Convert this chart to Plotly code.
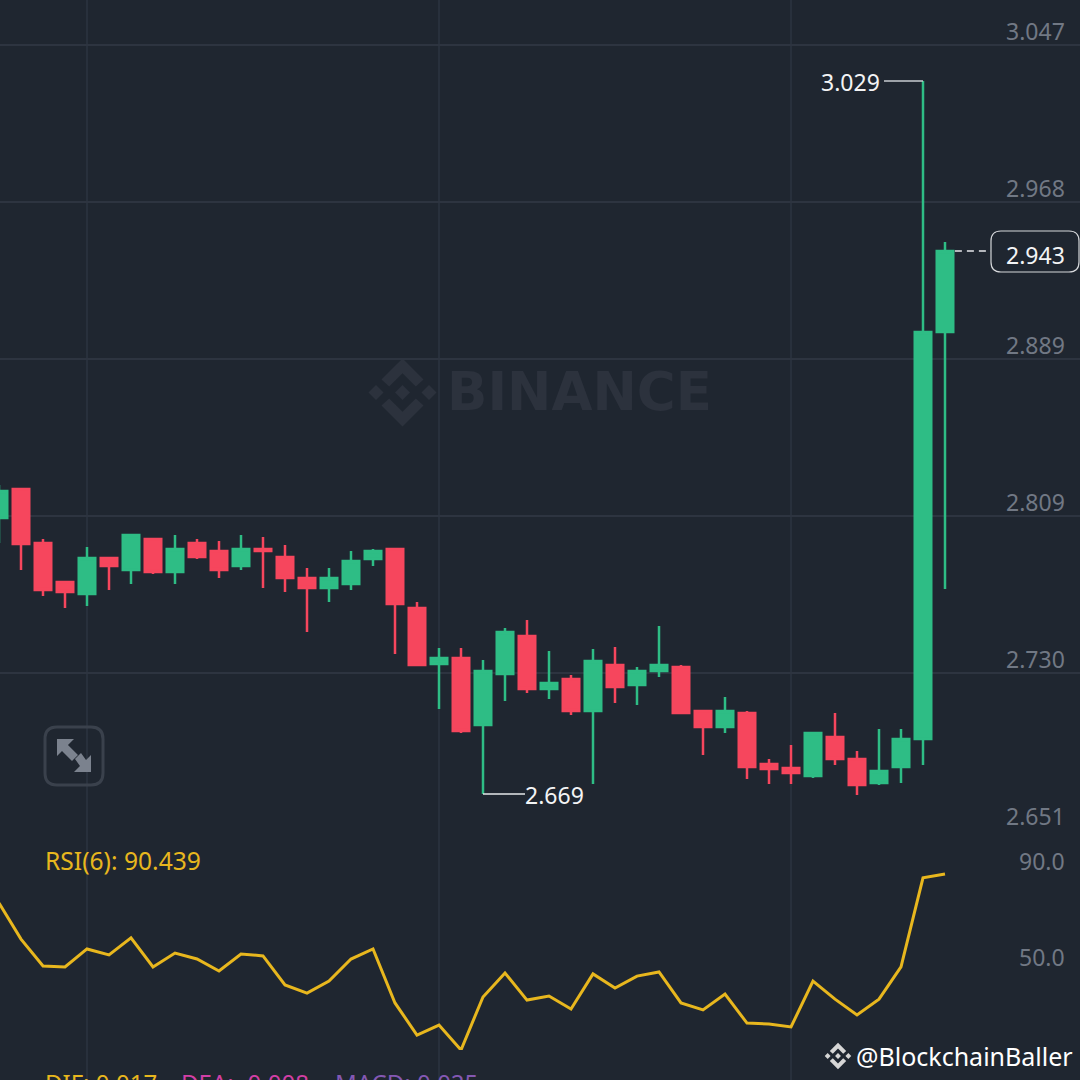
import plotly.graph_objects as go

# ---------- data ----------
opens = [2.8084, 2.8230, 2.7958, 2.7761, 2.7701, 2.7882, 2.7822, 2.7978, 2.7812, 2.7958, 2.7917,
         2.7842, 2.7928, 2.7887, 2.7781, 2.7731, 2.7751, 2.7877, 2.7928, 2.7630, 2.7347, 2.7378,
         2.7040, 2.7297, 2.7489, 2.7221, 2.7272, 2.7110, 2.7342, 2.7242, 2.7312, 2.7332, 2.7110,
         2.7030, 2.7100, 2.6843, 2.6823, 2.6782, 2.6979, 2.6868, 2.6747, 2.6828, 2.6969, 2.9022]
closes = [2.8220, 2.7953, 2.7721, 2.7711, 2.7882, 2.7842, 2.7998, 2.7812, 2.7928, 2.7887, 2.7822,
          2.7928, 2.7917, 2.7781, 2.7731, 2.7781, 2.7867, 2.7917, 2.7650, 2.7342, 2.7378, 2.7009,
          2.7312, 2.7509, 2.7221, 2.7252, 2.7110, 2.7363, 2.7231, 2.7312, 2.7342, 2.7100, 2.7030,
          2.7110, 2.6828, 2.6818, 2.6798, 2.6999, 2.6868, 2.6737, 2.6808, 2.6969, 2.9022, 2.9431]
highs = [2.8250, 2.8230, 2.7978, 2.7761, 2.7938, 2.7887, 2.7998, 2.7978, 2.7998, 2.7978, 2.7968,
         2.7998, 2.7988, 2.7948, 2.7832, 2.7832, 2.7917, 2.7928, 2.7928, 2.7660, 2.7428, 2.7428,
         2.7368, 2.7529, 2.7569, 2.7413, 2.7292, 2.7423, 2.7433, 2.7332, 2.7539, 2.7342, 2.7110,
         2.7181, 2.7110, 2.6868, 2.6939, 2.6999, 2.7100, 2.6909, 2.7020, 2.7020, 3.0288, 2.9476]
lows = [2.7958, 2.7822, 2.7690, 2.7630, 2.7640, 2.7721, 2.7751, 2.7801, 2.7751, 2.7877, 2.7781,
        2.7822, 2.7731, 2.7711, 2.7509, 2.7660, 2.7721, 2.7842, 2.7398, 2.7342, 2.7120, 2.6999,
        2.6692, 2.7161, 2.7201, 2.7171, 2.7090, 2.6742, 2.7151, 2.7141, 2.7282, 2.7100, 2.6888,
        2.6999, 2.6767, 2.6742, 2.6742, 2.6772, 2.6838, 2.6687, 2.6737, 2.6747, 2.6838, 2.7726]
rsi = [78.3, 63.3, 52.1, 51.7, 59.2, 56.7, 63.8, 51.7, 57.5, 55.0, 50.0, 57.1, 56.3, 44.2, 40.8,
       45.8, 55.0, 59.2, 36.7, 23.3, 27.5, 17.1, 39.2, 49.2, 37.9, 39.6, 34.2, 48.8, 42.9, 47.9,
       49.6, 36.7, 33.8, 40.4, 28.3, 27.9, 26.7, 45.8, 38.3, 31.7, 38.3, 51.7, 88.8, 90.4]
candle_index = list(range(len(opens)))

price_ticks = [3.0470, 2.9678, 2.8886, 2.8094, 2.7302, 2.6510]
rsi_ticks = [90.0, 50.0]
grid_index = [4, 20, 36]
high_mark = (42, 3.0288, "3.029")
low_mark = (22, 2.6692, "2.669")
last_mark = (43, 2.9431, "2.943")

# ---------- style ----------
BG = "#1F2630"
GRID = "#2D3440"
UP = "#2EBD85"
DOWN = "#F6465D"
LABEL = "#717884"
YEL = "#E8B71E"
FONT = "Noto Sans"
WM = "#2C323D"
W, H = 1080, 1080


def px(x):
    return x / W


def py(y):
    return 1 - y / H


def path(points, close=True):
    d = "M" + " L".join(f"{px(x):.5f},{py(y):.5f}" for x, y in points)
    return d + (" Z" if close else "")


def rrect(x0, y0, x1, y1, r):
    X0, X1, Y0, Y1 = px(x0), px(x1), py(y0), py(y1)
    rx, ry = r / W, r / H
    return (f"M{X0+rx:.5f},{Y0:.5f} L{X1-rx:.5f},{Y0:.5f} Q{X1:.5f},{Y0:.5f} {X1:.5f},{Y0-ry:.5f} "
            f"L{X1:.5f},{Y1+ry:.5f} Q{X1:.5f},{Y1:.5f} {X1-rx:.5f},{Y1:.5f} "
            f"L{X0+rx:.5f},{Y1:.5f} Q{X0:.5f},{Y1:.5f} {X0:.5f},{Y1+ry:.5f} "
            f"L{X0:.5f},{Y0-ry:.5f} Q{X0:.5f},{Y0:.5f} {X0+rx:.5f},{Y0:.5f} Z")


def logo(cx, cy, s, color, layer):
    parts = []
    dia = [(0, -7.5), (7.5, 0), (0, 7.5), (-7.5, 0)]
    for ox in (-26.5, 0, 26.5):
        parts.append([(cx + (ox + a) * s, cy + b * s) for a, b in dia])
    chev = [(0, -34), (21, -13), (13.3, -6), (0, -19.3), (-13.3, -6), (-21, -13)]
    parts.append([(cx + a * s, cy + b * s) for a, b in chev])
    parts.append([(cx + a * s, cy - b * s) for a, b in chev])
    return [dict(type="path", xref="paper", yref="paper", path=path(p), fillcolor=color,
                 line=dict(width=0), layer=layer) for p in parts]


shapes = []
for g in grid_index:
    shapes.append(dict(type="line", xref="x", yref="paper", x0=g, x1=g, y0=0, y1=1,
                       line=dict(color=GRID, width=1.5), layer="below"))
shapes += logo(402.5, 392.5, 1, WM, "below")
shapes += logo(838, 1056, 0.39, "#D6D6D6", "above")

# expand icon
shapes.append(dict(type="path", xref="paper", yref="paper", path=rrect(45, 727, 103, 785, 12),
                   line=dict(color="#3A414C", width=3), fillcolor="rgba(0,0,0,0)", layer="above"))
ICON = "#7B828E"
for pts in ([(57, 739), (74, 739), (68, 745), (78, 755), (72, 761), (62, 751), (57, 756)],
            [(91, 772), (74, 772), (80, 766), (75, 759), (81, 753), (86, 760), (91, 755)]):
    shapes.append(dict(type="path", xref="paper", yref="paper", path=path(pts), fillcolor=ICON,
                       line=dict(width=0), layer="above"))

# high / low leaders and last-price line
shapes.append(dict(type="line", xref="x", yref="y", x0=high_mark[0], x1=high_mark[0] - 39 / 22,
                   y0=high_mark[1], y1=high_mark[1], line=dict(color="#C9CCD1", width=1.5)))
shapes.append(dict(type="line", xref="x", yref="y", x0=low_mark[0], x1=low_mark[0] + 42 / 22,
                   y0=low_mark[1], y1=low_mark[1], line=dict(color="#E6E8EA", width=1.5)))
shapes.append(dict(type="line", xref="x", yref="y", x0=last_mark[0] + 0.45, x1=last_mark[0] + 46 / 22,
                   y0=last_mark[1], y1=last_mark[1],
                   line=dict(color="#E6E8EA", width=1.4, dash="7px,5px")))
shapes.append(dict(type="path", xref="paper", yref="paper", path=rrect(991, 231, 1079, 272, 10),
                   line=dict(color="#D5D7DA", width=1.2), fillcolor=BG, layer="above"))

annotations = []


def note(text, x, y, color, size, anchor="left", xref="paper", yref="paper", **kw):
    annotations.append(dict(text=text, x=x, y=y, xref=xref, yref=yref, xanchor=anchor, yanchor="middle",
                            showarrow=False, font=dict(family=kw.pop("family", FONT), size=size, color=color),
                            borderpad=0, **kw))


for t in price_ticks:
    note(f"{t:.3f}", px(1066), t, LABEL, 23, "right", yref="y", yshift=14)
for t in rsi_ticks:
    note(f"{t:.1f}", px(1066), t, LABEL, 23, "right", yref="y2", yshift=14)
note(high_mark[2], high_mark[0], high_mark[1], "#F3F4F5", 23, "right", xref="x", yref="y", xshift=-42, yshift=-1)
note(low_mark[2], low_mark[0], low_mark[1], "#F3F4F5", 23, "left", xref="x", yref="y", xshift=41, yshift=-1)
note(last_mark[2], px(1066), last_mark[1], "#F3F4F5", 23, "right", yref="y", yshift=-4)
note("RSI(6): 90.439", px(43.5), py(860), YEL, 24.6)
note("DIF: 0.017", px(43.5), py(1082), YEL, 24)
note("DEA: -0.008", px(179.5), py(1082), "#D23FA5", 24)
note("MACD: 0.025", px(333.5), py(1082), "#8458B3", 24)
note("0.036", px(1066), py(1090), LABEL, 23, "right")
annotations.append(dict(text="<b>BINANCE</b>", x=px(446), y=py(392), xref="paper", yref="paper", xanchor="left",
                        yanchor="middle", showarrow=False, borderpad=0,
                        font=dict(family="DejaVu Sans", size=53, color=WM)))
note("@BlockchainBaller", px(855), py(1056), "#FFFFFF", 25)

fig = go.Figure()
fig.add_trace(go.Candlestick(
    x=candle_index, open=opens, high=highs, low=lows, close=closes,
    xaxis="x", yaxis="y", whiskerwidth=0, showlegend=False, hoverinfo="skip",
    increasing=dict(line=dict(color=UP, width=2.5), fillcolor=UP),
    decreasing=dict(line=dict(color=DOWN, width=2.5), fillcolor=DOWN),
))
fig.add_trace(go.Scatter(
    x=candle_index, y=rsi, mode="lines", xaxis="x", yaxis="y2", showlegend=False, hoverinfo="skip",
    line=dict(color=YEL, width=3), cliponaxis=False,
))
fig.update_layout(
    width=W, height=H, margin=dict(l=0, r=0, t=0, b=0), autosize=False,
    paper_bgcolor=BG, plot_bgcolor=BG, boxgap=0.25, boxgroupgap=0,
    xaxis=dict(domain=[0, 1], range=[1 / 22, 1081 / 22], visible=False, rangeslider=dict(visible=False),
               anchor="y2", fixedrange=True),
    yaxis=dict(domain=[250 / H, 1], range=[2.651, 2.651 + 830 * 0.00050446], tickvals=price_ticks,
               showticklabels=False, showgrid=True, gridcolor=GRID, gridwidth=1.5, zeroline=False, ticks="",
               fixedrange=True),
    yaxis2=dict(domain=[30 / H, 250 / H], range=[17.1, 108.75], tickvals=[17.1],
                showticklabels=False, showgrid=True, gridcolor=GRID, gridwidth=1.5, zeroline=False, ticks="",
                fixedrange=True),
    shapes=shapes, annotations=annotations,
)
fig.write_html("out.html", config={"displayModeBar": False},
               post_script="document.body.style.margin='0';document.documentElement.style.overflow='hidden';")
